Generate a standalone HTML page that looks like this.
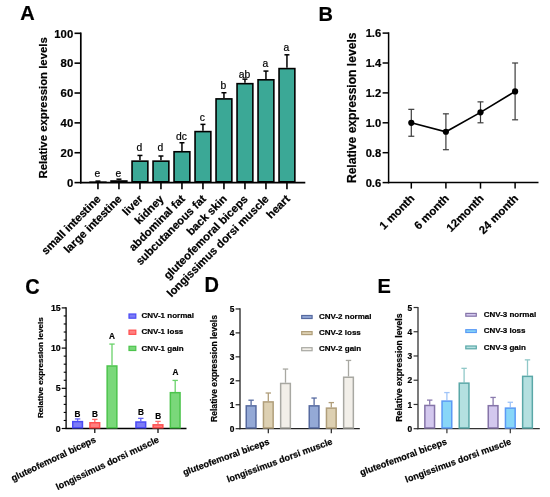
<!DOCTYPE html>
<html><head><meta charset="utf-8"><style>
html,body{margin:0;padding:0;background:#fff;}
svg{display:block;font-family:"Liberation Sans", sans-serif;will-change:transform;}
text{stroke:#000;stroke-width:0.2px;}
</style></head><body>
<svg width="550" height="497" viewBox="0 0 550 497">
<rect width="550" height="497" fill="#fff"/>
<text x="20.20" y="19.90" font-size="20" font-weight="bold" text-anchor="start" fill="#000">A</text>
<text x="318.60" y="20.90" font-size="20" font-weight="bold" text-anchor="start" fill="#000">B</text>
<text transform="translate(25.20,294.10) scale(1,1.07)" font-size="20" font-weight="bold" text-anchor="start" fill="#000">C</text>
<text transform="translate(204.60,291.60) scale(1,1.07)" font-size="20" font-weight="bold" text-anchor="start" fill="#000">D</text>
<text transform="translate(377.60,292.90) scale(1,1.03)" font-size="20" font-weight="bold" text-anchor="start" fill="#000">E</text>
<line x1="80.80" y1="32.50" x2="80.80" y2="183.40" stroke="#000" stroke-width="1.7"/>
<line x1="80.00" y1="182.60" x2="305.30" y2="182.60" stroke="#000" stroke-width="1.7"/>
<line x1="74.50" y1="182.60" x2="80.80" y2="182.60" stroke="#000" stroke-width="1.6"/>
<text x="73.20" y="186.90" font-size="11.3" font-weight="bold" text-anchor="end" fill="#000">0</text>
<line x1="74.50" y1="152.74" x2="80.80" y2="152.74" stroke="#000" stroke-width="1.6"/>
<text x="73.20" y="157.04" font-size="11.3" font-weight="bold" text-anchor="end" fill="#000">20</text>
<line x1="74.50" y1="122.88" x2="80.80" y2="122.88" stroke="#000" stroke-width="1.6"/>
<text x="73.20" y="127.18" font-size="11.3" font-weight="bold" text-anchor="end" fill="#000">40</text>
<line x1="74.50" y1="93.02" x2="80.80" y2="93.02" stroke="#000" stroke-width="1.6"/>
<text x="73.20" y="97.32" font-size="11.3" font-weight="bold" text-anchor="end" fill="#000">60</text>
<line x1="74.50" y1="63.16" x2="80.80" y2="63.16" stroke="#000" stroke-width="1.6"/>
<text x="73.20" y="67.46" font-size="11.3" font-weight="bold" text-anchor="end" fill="#000">80</text>
<line x1="74.50" y1="33.30" x2="80.80" y2="33.30" stroke="#000" stroke-width="1.6"/>
<text x="73.20" y="37.60" font-size="11.3" font-weight="bold" text-anchor="end" fill="#000">100</text>
<text transform="translate(46.90,107.90) rotate(-90)" font-size="11.35" font-weight="bold" text-anchor="middle" fill="#000">Relative expression levels</text>
<line x1="97.95" y1="182.60" x2="97.95" y2="189.20" stroke="#000" stroke-width="1.6"/>
<line x1="97.95" y1="181.41" x2="97.95" y2="181.11" stroke="#000" stroke-width="1.5"/>
<line x1="95.45" y1="181.11" x2="100.45" y2="181.11" stroke="#000" stroke-width="1.5"/>
<rect x="90.05" y="182.21" width="15.80" height="0.01" fill="#3ba896" stroke="#000" stroke-width="1.6"/>
<text x="97.45" y="176.60" font-size="10.3" font-weight="normal" text-anchor="middle" fill="#000">e</text>
<text transform="translate(101.55,199.70) rotate(-45)" font-size="11.3" font-weight="bold" text-anchor="end" fill="#000">small intestine</text>
<line x1="118.95" y1="182.60" x2="118.95" y2="189.20" stroke="#000" stroke-width="1.6"/>
<line x1="118.95" y1="180.21" x2="118.95" y2="179.17" stroke="#000" stroke-width="1.5"/>
<line x1="116.45" y1="179.17" x2="121.45" y2="179.17" stroke="#000" stroke-width="1.5"/>
<rect x="111.05" y="181.01" width="15.80" height="0.79" fill="#3ba896" stroke="#000" stroke-width="1.6"/>
<text x="118.45" y="176.60" font-size="10.3" font-weight="normal" text-anchor="middle" fill="#000">e</text>
<text transform="translate(122.55,199.70) rotate(-45)" font-size="11.3" font-weight="bold" text-anchor="end" fill="#000">large intestine</text>
<line x1="139.95" y1="182.60" x2="139.95" y2="189.20" stroke="#000" stroke-width="1.6"/>
<line x1="139.95" y1="160.35" x2="139.95" y2="155.43" stroke="#000" stroke-width="1.5"/>
<line x1="137.45" y1="155.43" x2="142.45" y2="155.43" stroke="#000" stroke-width="1.5"/>
<rect x="132.05" y="161.15" width="15.80" height="20.65" fill="#3ba896" stroke="#000" stroke-width="1.6"/>
<text x="139.45" y="150.50" font-size="10.3" font-weight="normal" text-anchor="middle" fill="#000">d</text>
<text transform="translate(143.55,199.70) rotate(-45)" font-size="11.3" font-weight="bold" text-anchor="end" fill="#000">liver</text>
<line x1="160.95" y1="182.60" x2="160.95" y2="189.20" stroke="#000" stroke-width="1.6"/>
<line x1="160.95" y1="160.35" x2="160.95" y2="156.02" stroke="#000" stroke-width="1.5"/>
<line x1="158.45" y1="156.02" x2="163.45" y2="156.02" stroke="#000" stroke-width="1.5"/>
<rect x="153.05" y="161.15" width="15.80" height="20.65" fill="#3ba896" stroke="#000" stroke-width="1.6"/>
<text x="160.45" y="150.50" font-size="10.3" font-weight="normal" text-anchor="middle" fill="#000">d</text>
<text transform="translate(164.55,199.70) rotate(-45)" font-size="11.3" font-weight="bold" text-anchor="end" fill="#000">kidney</text>
<line x1="181.95" y1="182.60" x2="181.95" y2="189.20" stroke="#000" stroke-width="1.6"/>
<line x1="181.95" y1="150.95" x2="181.95" y2="142.74" stroke="#000" stroke-width="1.5"/>
<line x1="179.45" y1="142.74" x2="184.45" y2="142.74" stroke="#000" stroke-width="1.5"/>
<rect x="174.05" y="151.75" width="15.80" height="30.05" fill="#3ba896" stroke="#000" stroke-width="1.6"/>
<text x="181.45" y="140.20" font-size="10.3" font-weight="normal" text-anchor="middle" fill="#000">dc</text>
<text transform="translate(185.55,199.70) rotate(-45)" font-size="11.3" font-weight="bold" text-anchor="end" fill="#000">abdominal fat</text>
<line x1="202.95" y1="182.60" x2="202.95" y2="189.20" stroke="#000" stroke-width="1.6"/>
<line x1="202.95" y1="130.79" x2="202.95" y2="124.37" stroke="#000" stroke-width="1.5"/>
<line x1="200.45" y1="124.37" x2="205.45" y2="124.37" stroke="#000" stroke-width="1.5"/>
<rect x="195.05" y="131.59" width="15.80" height="50.21" fill="#3ba896" stroke="#000" stroke-width="1.6"/>
<text x="202.45" y="121.30" font-size="10.3" font-weight="normal" text-anchor="middle" fill="#000">c</text>
<text transform="translate(206.55,199.70) rotate(-45)" font-size="11.3" font-weight="bold" text-anchor="end" fill="#000">subcutaneous fat</text>
<line x1="223.95" y1="182.60" x2="223.95" y2="189.20" stroke="#000" stroke-width="1.6"/>
<line x1="223.95" y1="98.10" x2="223.95" y2="92.72" stroke="#000" stroke-width="1.5"/>
<line x1="221.45" y1="92.72" x2="226.45" y2="92.72" stroke="#000" stroke-width="1.5"/>
<rect x="216.05" y="98.90" width="15.80" height="82.90" fill="#3ba896" stroke="#000" stroke-width="1.6"/>
<text x="223.45" y="88.70" font-size="10.3" font-weight="normal" text-anchor="middle" fill="#000">b</text>
<text transform="translate(227.55,199.70) rotate(-45)" font-size="11.3" font-weight="bold" text-anchor="end" fill="#000">back skin</text>
<line x1="244.95" y1="182.60" x2="244.95" y2="189.20" stroke="#000" stroke-width="1.6"/>
<line x1="244.95" y1="82.87" x2="244.95" y2="79.14" stroke="#000" stroke-width="1.5"/>
<line x1="242.45" y1="79.14" x2="247.45" y2="79.14" stroke="#000" stroke-width="1.5"/>
<rect x="237.05" y="83.67" width="15.80" height="98.13" fill="#3ba896" stroke="#000" stroke-width="1.6"/>
<text x="244.45" y="78.10" font-size="10.3" font-weight="normal" text-anchor="middle" fill="#000">ab</text>
<text transform="translate(248.55,199.70) rotate(-45)" font-size="11.3" font-weight="bold" text-anchor="end" fill="#000">gluteofemoral biceps</text>
<line x1="265.95" y1="182.60" x2="265.95" y2="189.20" stroke="#000" stroke-width="1.6"/>
<line x1="265.95" y1="78.99" x2="265.95" y2="71.07" stroke="#000" stroke-width="1.5"/>
<line x1="263.45" y1="71.07" x2="268.45" y2="71.07" stroke="#000" stroke-width="1.5"/>
<rect x="258.05" y="79.79" width="15.80" height="102.01" fill="#3ba896" stroke="#000" stroke-width="1.6"/>
<text x="265.45" y="67.00" font-size="10.3" font-weight="normal" text-anchor="middle" fill="#000">a</text>
<text transform="translate(269.55,199.70) rotate(-45)" font-size="11.3" font-weight="bold" text-anchor="end" fill="#000">longissimus dorsi muscle</text>
<line x1="286.95" y1="182.60" x2="286.95" y2="189.20" stroke="#000" stroke-width="1.6"/>
<line x1="286.95" y1="67.79" x2="286.95" y2="54.80" stroke="#000" stroke-width="1.5"/>
<line x1="284.45" y1="54.80" x2="289.45" y2="54.80" stroke="#000" stroke-width="1.5"/>
<rect x="279.05" y="68.59" width="15.80" height="113.21" fill="#3ba896" stroke="#000" stroke-width="1.6"/>
<text x="286.45" y="51.10" font-size="10.3" font-weight="normal" text-anchor="middle" fill="#000">a</text>
<text transform="translate(290.55,199.70) rotate(-45)" font-size="11.3" font-weight="bold" text-anchor="end" fill="#000">heart</text>
<line x1="388.60" y1="32.30" x2="388.60" y2="183.30" stroke="#000" stroke-width="1.5"/>
<line x1="387.90" y1="182.60" x2="538.50" y2="182.60" stroke="#000" stroke-width="1.5"/>
<line x1="382.60" y1="182.60" x2="388.60" y2="182.60" stroke="#000" stroke-width="1.5"/>
<text x="381.20" y="186.80" font-size="11.2" font-weight="bold" text-anchor="end" fill="#000">0.6</text>
<line x1="382.60" y1="152.70" x2="388.60" y2="152.70" stroke="#000" stroke-width="1.5"/>
<text x="381.20" y="156.90" font-size="11.2" font-weight="bold" text-anchor="end" fill="#000">0.8</text>
<line x1="382.60" y1="122.80" x2="388.60" y2="122.80" stroke="#000" stroke-width="1.5"/>
<text x="381.20" y="127.00" font-size="11.2" font-weight="bold" text-anchor="end" fill="#000">1.0</text>
<line x1="382.60" y1="92.90" x2="388.60" y2="92.90" stroke="#000" stroke-width="1.5"/>
<text x="381.20" y="97.10" font-size="11.2" font-weight="bold" text-anchor="end" fill="#000">1.2</text>
<line x1="382.60" y1="63.00" x2="388.60" y2="63.00" stroke="#000" stroke-width="1.5"/>
<text x="381.20" y="67.20" font-size="11.2" font-weight="bold" text-anchor="end" fill="#000">1.4</text>
<line x1="382.60" y1="33.10" x2="388.60" y2="33.10" stroke="#000" stroke-width="1.5"/>
<text x="381.20" y="37.30" font-size="11.2" font-weight="bold" text-anchor="end" fill="#000">1.6</text>
<text transform="translate(355.60,107.80) rotate(-90)" font-size="12.1" font-weight="bold" text-anchor="middle" fill="#000">Relative expression levels</text>
<line x1="411.30" y1="182.60" x2="411.30" y2="188.60" stroke="#000" stroke-width="1.5"/>
<text transform="translate(415.10,199.20) rotate(-45)" font-size="11.3" font-weight="bold" text-anchor="end" fill="#000">1 month</text>
<line x1="445.90" y1="182.60" x2="445.90" y2="188.60" stroke="#000" stroke-width="1.5"/>
<text transform="translate(449.70,199.20) rotate(-45)" font-size="11.3" font-weight="bold" text-anchor="end" fill="#000">6 month</text>
<line x1="480.50" y1="182.60" x2="480.50" y2="188.60" stroke="#000" stroke-width="1.5"/>
<text transform="translate(484.30,199.20) rotate(-45)" font-size="11.3" font-weight="bold" text-anchor="end" fill="#000">12month</text>
<line x1="515.10" y1="182.60" x2="515.10" y2="188.60" stroke="#000" stroke-width="1.5"/>
<text transform="translate(518.90,199.20) rotate(-45)" font-size="11.3" font-weight="bold" text-anchor="end" fill="#000">24 month</text>
<line x1="411.30" y1="136.25" x2="411.30" y2="109.34" stroke="#3c3c3c" stroke-width="1.2"/>
<line x1="408.30" y1="136.25" x2="414.30" y2="136.25" stroke="#3c3c3c" stroke-width="1.2"/>
<line x1="408.30" y1="109.34" x2="414.30" y2="109.34" stroke="#3c3c3c" stroke-width="1.2"/>
<line x1="445.90" y1="149.71" x2="445.90" y2="113.83" stroke="#3c3c3c" stroke-width="1.2"/>
<line x1="442.90" y1="149.71" x2="448.90" y2="149.71" stroke="#3c3c3c" stroke-width="1.2"/>
<line x1="442.90" y1="113.83" x2="448.90" y2="113.83" stroke="#3c3c3c" stroke-width="1.2"/>
<line x1="480.50" y1="122.80" x2="480.50" y2="101.87" stroke="#3c3c3c" stroke-width="1.2"/>
<line x1="477.50" y1="122.80" x2="483.50" y2="122.80" stroke="#3c3c3c" stroke-width="1.2"/>
<line x1="477.50" y1="101.87" x2="483.50" y2="101.87" stroke="#3c3c3c" stroke-width="1.2"/>
<line x1="515.10" y1="119.81" x2="515.10" y2="63.00" stroke="#3c3c3c" stroke-width="1.2"/>
<line x1="512.10" y1="119.81" x2="518.10" y2="119.81" stroke="#3c3c3c" stroke-width="1.2"/>
<line x1="512.10" y1="63.00" x2="518.10" y2="63.00" stroke="#3c3c3c" stroke-width="1.2"/>
<polyline fill="none" stroke="#000" stroke-width="1.6" points="411.30,122.80 445.90,131.77 480.50,112.33 515.10,91.41"/>
<circle cx="411.30" cy="122.80" r="3.1" fill="#000"/>
<circle cx="445.90" cy="131.77" r="3.1" fill="#000"/>
<circle cx="480.50" cy="112.33" r="3.1" fill="#000"/>
<circle cx="515.10" cy="91.41" r="3.1" fill="#000"/>
<line x1="66.10" y1="307.30" x2="66.10" y2="429.10" stroke="#000" stroke-width="1.3"/>
<line x1="65.50" y1="428.50" x2="186.50" y2="428.50" stroke="#000" stroke-width="1.3"/>
<line x1="61.70" y1="428.50" x2="66.10" y2="428.50" stroke="#000" stroke-width="1.2"/>
<text x="60.70" y="431.60" font-size="8.8" font-weight="bold" text-anchor="end" fill="#000">0</text>
<line x1="61.70" y1="388.30" x2="66.10" y2="388.30" stroke="#000" stroke-width="1.2"/>
<text x="60.70" y="391.40" font-size="8.8" font-weight="bold" text-anchor="end" fill="#000">5</text>
<line x1="61.70" y1="348.10" x2="66.10" y2="348.10" stroke="#000" stroke-width="1.2"/>
<text x="60.70" y="351.20" font-size="8.8" font-weight="bold" text-anchor="end" fill="#000">10</text>
<line x1="61.70" y1="307.90" x2="66.10" y2="307.90" stroke="#000" stroke-width="1.2"/>
<text x="60.70" y="311.00" font-size="8.8" font-weight="bold" text-anchor="end" fill="#000">15</text>
<line x1="63.70" y1="420.46" x2="66.10" y2="420.46" stroke="#000" stroke-width="1.1"/>
<line x1="63.70" y1="412.42" x2="66.10" y2="412.42" stroke="#000" stroke-width="1.1"/>
<line x1="63.70" y1="404.38" x2="66.10" y2="404.38" stroke="#000" stroke-width="1.1"/>
<line x1="63.70" y1="396.34" x2="66.10" y2="396.34" stroke="#000" stroke-width="1.1"/>
<line x1="63.70" y1="380.26" x2="66.10" y2="380.26" stroke="#000" stroke-width="1.1"/>
<line x1="63.70" y1="372.22" x2="66.10" y2="372.22" stroke="#000" stroke-width="1.1"/>
<line x1="63.70" y1="364.18" x2="66.10" y2="364.18" stroke="#000" stroke-width="1.1"/>
<line x1="63.70" y1="356.14" x2="66.10" y2="356.14" stroke="#000" stroke-width="1.1"/>
<line x1="63.70" y1="340.06" x2="66.10" y2="340.06" stroke="#000" stroke-width="1.1"/>
<line x1="63.70" y1="332.02" x2="66.10" y2="332.02" stroke="#000" stroke-width="1.1"/>
<line x1="63.70" y1="323.98" x2="66.10" y2="323.98" stroke="#000" stroke-width="1.1"/>
<line x1="63.70" y1="315.94" x2="66.10" y2="315.94" stroke="#000" stroke-width="1.1"/>
<text transform="translate(42.70,367.60) rotate(-90)" font-size="8.1" font-weight="bold" text-anchor="middle" fill="#000">Relative expression levels</text>
<line x1="94.80" y1="428.50" x2="94.80" y2="433.10" stroke="#000" stroke-width="1.2"/>
<line x1="77.60" y1="420.86" x2="77.60" y2="418.93" stroke="#6464f4" stroke-width="1.3"/>
<line x1="74.90" y1="418.93" x2="80.30" y2="418.93" stroke="#6464f4" stroke-width="1.3"/>
<rect x="72.75" y="421.61" width="9.70" height="6.14" fill="#7c7cf6" stroke="#4a4af5" stroke-width="1.5"/>
<line x1="94.80" y1="421.99" x2="94.80" y2="419.41" stroke="#ff6a6a" stroke-width="1.3"/>
<line x1="92.10" y1="419.41" x2="97.50" y2="419.41" stroke="#ff6a6a" stroke-width="1.3"/>
<rect x="89.95" y="422.74" width="9.70" height="5.01" fill="#ff8080" stroke="#ff4f4f" stroke-width="1.5"/>
<line x1="112.00" y1="365.23" x2="112.00" y2="344.08" stroke="#6ad26a" stroke-width="1.3"/>
<line x1="109.30" y1="344.08" x2="114.70" y2="344.08" stroke="#6ad26a" stroke-width="1.3"/>
<rect x="107.15" y="365.98" width="9.70" height="61.77" fill="#7ad87a" stroke="#4cc44c" stroke-width="1.5"/>
<line x1="158.00" y1="428.50" x2="158.00" y2="433.10" stroke="#000" stroke-width="1.2"/>
<line x1="140.80" y1="421.26" x2="140.80" y2="418.37" stroke="#6464f4" stroke-width="1.3"/>
<line x1="138.10" y1="418.37" x2="143.50" y2="418.37" stroke="#6464f4" stroke-width="1.3"/>
<rect x="135.95" y="422.01" width="9.70" height="5.74" fill="#7c7cf6" stroke="#4a4af5" stroke-width="1.5"/>
<line x1="158.00" y1="424.08" x2="158.00" y2="421.42" stroke="#ff6a6a" stroke-width="1.3"/>
<line x1="155.30" y1="421.42" x2="160.70" y2="421.42" stroke="#ff6a6a" stroke-width="1.3"/>
<rect x="153.15" y="424.83" width="9.70" height="2.92" fill="#ff8080" stroke="#ff4f4f" stroke-width="1.5"/>
<line x1="175.20" y1="391.92" x2="175.20" y2="380.42" stroke="#6ad26a" stroke-width="1.3"/>
<line x1="172.50" y1="380.42" x2="177.90" y2="380.42" stroke="#6ad26a" stroke-width="1.3"/>
<rect x="170.35" y="392.67" width="9.70" height="35.08" fill="#7ad87a" stroke="#4cc44c" stroke-width="1.5"/>
<rect x="129.00" y="314.00" width="6.80" height="4.20" fill="#7c7cf6" stroke="#4a4af5" stroke-width="1.2"/>
<text x="141.50" y="318.30" font-size="8.0" font-weight="bold" text-anchor="start" fill="#000">CNV-1 normal</text>
<rect x="129.00" y="330.15" width="6.80" height="4.20" fill="#ff8080" stroke="#ff4f4f" stroke-width="1.2"/>
<text x="141.50" y="334.45" font-size="8.0" font-weight="bold" text-anchor="start" fill="#000">CNV-1 loss</text>
<rect x="129.00" y="346.30" width="6.80" height="4.20" fill="#7ad87a" stroke="#4cc44c" stroke-width="1.2"/>
<text x="141.50" y="350.60" font-size="8.0" font-weight="bold" text-anchor="start" fill="#000">CNV-1 gain</text>
<text transform="translate(96.50,441.80) rotate(-25.4)" font-size="9.2" font-weight="bold" text-anchor="end" fill="#000">gluteofemoral biceps</text>
<text transform="translate(159.70,441.80) rotate(-25.4)" font-size="9.2" font-weight="bold" text-anchor="end" fill="#000">longissimus dorsi muscle</text>
<text x="77.50" y="416.60" font-size="8.2" font-weight="bold" text-anchor="middle" fill="#000">B</text>
<text x="95.00" y="417.00" font-size="8.2" font-weight="bold" text-anchor="middle" fill="#000">B</text>
<text x="112.00" y="338.70" font-size="8.2" font-weight="bold" text-anchor="middle" fill="#000">A</text>
<text x="141.00" y="415.00" font-size="8.2" font-weight="bold" text-anchor="middle" fill="#000">B</text>
<text x="158.20" y="419.20" font-size="8.2" font-weight="bold" text-anchor="middle" fill="#000">B</text>
<text x="175.40" y="374.90" font-size="8.2" font-weight="bold" text-anchor="middle" fill="#000">A</text>
<line x1="240.00" y1="308.35" x2="240.00" y2="429.30" stroke="#222" stroke-width="1.3"/>
<line x1="239.40" y1="428.70" x2="359.80" y2="428.70" stroke="#222" stroke-width="1.3"/>
<line x1="235.60" y1="428.70" x2="240.00" y2="428.70" stroke="#222" stroke-width="1.2"/>
<text x="234.30" y="431.80" font-size="8.4" font-weight="bold" text-anchor="end" fill="#000">0</text>
<line x1="235.60" y1="404.75" x2="240.00" y2="404.75" stroke="#222" stroke-width="1.2"/>
<text x="234.30" y="407.85" font-size="8.4" font-weight="bold" text-anchor="end" fill="#000">1</text>
<line x1="235.60" y1="380.80" x2="240.00" y2="380.80" stroke="#222" stroke-width="1.2"/>
<text x="234.30" y="383.90" font-size="8.4" font-weight="bold" text-anchor="end" fill="#000">2</text>
<line x1="235.60" y1="356.85" x2="240.00" y2="356.85" stroke="#222" stroke-width="1.2"/>
<text x="234.30" y="359.95" font-size="8.4" font-weight="bold" text-anchor="end" fill="#000">3</text>
<line x1="235.60" y1="332.90" x2="240.00" y2="332.90" stroke="#222" stroke-width="1.2"/>
<text x="234.30" y="336.00" font-size="8.4" font-weight="bold" text-anchor="end" fill="#000">4</text>
<line x1="235.60" y1="308.95" x2="240.00" y2="308.95" stroke="#222" stroke-width="1.2"/>
<text x="234.30" y="312.05" font-size="8.4" font-weight="bold" text-anchor="end" fill="#000">5</text>
<text transform="translate(216.50,368.50) rotate(-90)" font-size="8.6" font-weight="bold" text-anchor="middle" fill="#000">Relative expression levels</text>
<line x1="268.30" y1="428.70" x2="268.30" y2="433.30" stroke="#222" stroke-width="1.2"/>
<line x1="251.10" y1="405.11" x2="251.10" y2="400.20" stroke="#566aa0" stroke-width="1.3"/>
<line x1="248.40" y1="400.20" x2="253.80" y2="400.20" stroke="#566aa0" stroke-width="1.3"/>
<rect x="246.25" y="405.86" width="9.70" height="22.09" fill="#94a9d6" stroke="#566aa0" stroke-width="1.5"/>
<line x1="268.30" y1="401.16" x2="268.30" y2="393.01" stroke="#b09e7a" stroke-width="1.3"/>
<line x1="265.60" y1="393.01" x2="271.00" y2="393.01" stroke="#b09e7a" stroke-width="1.3"/>
<rect x="263.45" y="401.91" width="9.70" height="26.04" fill="#ddd0b2" stroke="#b09e7a" stroke-width="1.5"/>
<line x1="285.50" y1="382.72" x2="285.50" y2="369.06" stroke="#a8a8a2" stroke-width="1.3"/>
<line x1="282.80" y1="369.06" x2="288.20" y2="369.06" stroke="#a8a8a2" stroke-width="1.3"/>
<rect x="280.65" y="383.47" width="9.70" height="44.48" fill="#f2efe9" stroke="#a8a8a2" stroke-width="1.5"/>
<line x1="331.30" y1="428.70" x2="331.30" y2="433.30" stroke="#222" stroke-width="1.2"/>
<line x1="314.10" y1="405.11" x2="314.10" y2="398.04" stroke="#566aa0" stroke-width="1.3"/>
<line x1="311.40" y1="398.04" x2="316.80" y2="398.04" stroke="#566aa0" stroke-width="1.3"/>
<rect x="309.25" y="405.86" width="9.70" height="22.09" fill="#94a9d6" stroke="#566aa0" stroke-width="1.5"/>
<line x1="331.30" y1="407.38" x2="331.30" y2="402.59" stroke="#b09e7a" stroke-width="1.3"/>
<line x1="328.60" y1="402.59" x2="334.00" y2="402.59" stroke="#b09e7a" stroke-width="1.3"/>
<rect x="326.45" y="408.13" width="9.70" height="19.82" fill="#ddd0b2" stroke="#b09e7a" stroke-width="1.5"/>
<line x1="348.50" y1="376.49" x2="348.50" y2="360.44" stroke="#a8a8a2" stroke-width="1.3"/>
<line x1="345.80" y1="360.44" x2="351.20" y2="360.44" stroke="#a8a8a2" stroke-width="1.3"/>
<rect x="343.65" y="377.24" width="9.70" height="50.71" fill="#f2efe9" stroke="#a8a8a2" stroke-width="1.5"/>
<rect x="301.70" y="315.50" width="10.40" height="3.00" fill="#94a9d6" stroke="#566aa0" stroke-width="1.2"/>
<text x="319.00" y="319.00" font-size="8.0" font-weight="bold" text-anchor="start" fill="#000">CNV-2 normal</text>
<rect x="301.70" y="331.60" width="10.40" height="3.00" fill="#ddd0b2" stroke="#b09e7a" stroke-width="1.2"/>
<text x="319.00" y="335.10" font-size="8.0" font-weight="bold" text-anchor="start" fill="#000">CNV-2 loss</text>
<rect x="301.70" y="347.70" width="10.40" height="3.00" fill="#f2efe9" stroke="#a8a8a2" stroke-width="1.2"/>
<text x="319.00" y="351.20" font-size="8.0" font-weight="bold" text-anchor="start" fill="#000">CNV-2 gain</text>
<text transform="translate(270.00,444.00) rotate(-20.2)" font-size="9.1" font-weight="bold" text-anchor="end" fill="#000">gluteofemoral biceps</text>
<text transform="translate(333.00,444.00) rotate(-20.2)" font-size="9.1" font-weight="bold" text-anchor="end" fill="#000">longissimus dorsi muscle</text>
<line x1="418.00" y1="306.90" x2="418.00" y2="429.30" stroke="#333" stroke-width="1.3"/>
<line x1="417.40" y1="428.70" x2="539.80" y2="428.70" stroke="#333" stroke-width="1.3"/>
<line x1="413.60" y1="428.70" x2="418.00" y2="428.70" stroke="#333" stroke-width="1.2"/>
<text x="412.20" y="431.80" font-size="8.4" font-weight="bold" text-anchor="end" fill="#000">0</text>
<line x1="413.60" y1="404.46" x2="418.00" y2="404.46" stroke="#333" stroke-width="1.2"/>
<text x="412.20" y="407.56" font-size="8.4" font-weight="bold" text-anchor="end" fill="#000">1</text>
<line x1="413.60" y1="380.22" x2="418.00" y2="380.22" stroke="#333" stroke-width="1.2"/>
<text x="412.20" y="383.32" font-size="8.4" font-weight="bold" text-anchor="end" fill="#000">2</text>
<line x1="413.60" y1="355.98" x2="418.00" y2="355.98" stroke="#333" stroke-width="1.2"/>
<text x="412.20" y="359.08" font-size="8.4" font-weight="bold" text-anchor="end" fill="#000">3</text>
<line x1="413.60" y1="331.74" x2="418.00" y2="331.74" stroke="#333" stroke-width="1.2"/>
<text x="412.20" y="334.84" font-size="8.4" font-weight="bold" text-anchor="end" fill="#000">4</text>
<line x1="413.60" y1="307.50" x2="418.00" y2="307.50" stroke="#333" stroke-width="1.2"/>
<text x="412.20" y="310.60" font-size="8.4" font-weight="bold" text-anchor="end" fill="#000">5</text>
<text transform="translate(402.00,367.60) rotate(-90)" font-size="8.7" font-weight="bold" text-anchor="middle" fill="#000">Relative expression levels</text>
<line x1="446.90" y1="428.70" x2="446.90" y2="433.30" stroke="#333" stroke-width="1.2"/>
<line x1="429.70" y1="404.70" x2="429.70" y2="400.10" stroke="#8a7aae" stroke-width="1.3"/>
<line x1="427.00" y1="400.10" x2="432.40" y2="400.10" stroke="#8a7aae" stroke-width="1.3"/>
<rect x="424.85" y="405.45" width="9.70" height="22.50" fill="#d3c8ee" stroke="#8574a8" stroke-width="1.5"/>
<line x1="446.90" y1="400.34" x2="446.90" y2="392.58" stroke="#a0c4f8" stroke-width="1.3"/>
<line x1="444.20" y1="392.58" x2="449.60" y2="392.58" stroke="#a0c4f8" stroke-width="1.3"/>
<rect x="442.05" y="401.09" width="9.70" height="26.86" fill="#88d6f8" stroke="#5a9af5" stroke-width="1.5"/>
<line x1="464.10" y1="382.40" x2="464.10" y2="368.34" stroke="#90c8c8" stroke-width="1.3"/>
<line x1="461.40" y1="368.34" x2="466.80" y2="368.34" stroke="#90c8c8" stroke-width="1.3"/>
<rect x="459.25" y="383.15" width="9.70" height="44.80" fill="#b4e0e0" stroke="#5aa8a8" stroke-width="1.5"/>
<line x1="510.30" y1="428.70" x2="510.30" y2="433.30" stroke="#333" stroke-width="1.2"/>
<line x1="493.10" y1="404.94" x2="493.10" y2="397.43" stroke="#8a7aae" stroke-width="1.3"/>
<line x1="490.40" y1="397.43" x2="495.80" y2="397.43" stroke="#8a7aae" stroke-width="1.3"/>
<rect x="488.25" y="405.69" width="9.70" height="22.26" fill="#d3c8ee" stroke="#8574a8" stroke-width="1.5"/>
<line x1="510.30" y1="407.37" x2="510.30" y2="402.28" stroke="#a0c4f8" stroke-width="1.3"/>
<line x1="507.60" y1="402.28" x2="513.00" y2="402.28" stroke="#a0c4f8" stroke-width="1.3"/>
<rect x="505.45" y="408.12" width="9.70" height="19.83" fill="#88d6f8" stroke="#5a9af5" stroke-width="1.5"/>
<line x1="527.50" y1="375.61" x2="527.50" y2="359.86" stroke="#90c8c8" stroke-width="1.3"/>
<line x1="524.80" y1="359.86" x2="530.20" y2="359.86" stroke="#90c8c8" stroke-width="1.3"/>
<rect x="522.65" y="376.36" width="9.70" height="51.59" fill="#b4e0e0" stroke="#5aa8a8" stroke-width="1.5"/>
<rect x="465.80" y="313.40" width="10.50" height="2.80" fill="#d3c8ee" stroke="#8574a8" stroke-width="1.2"/>
<text x="483.70" y="317.00" font-size="8.0" font-weight="bold" text-anchor="start" fill="#000">CNV-3 normal</text>
<rect x="465.80" y="329.70" width="10.50" height="2.80" fill="#88d6f8" stroke="#5a9af5" stroke-width="1.2"/>
<text x="483.70" y="333.30" font-size="8.0" font-weight="bold" text-anchor="start" fill="#000">CNV-3 loss</text>
<rect x="465.80" y="346.00" width="10.50" height="2.80" fill="#b4e0e0" stroke="#5aa8a8" stroke-width="1.2"/>
<text x="483.70" y="349.60" font-size="8.0" font-weight="bold" text-anchor="start" fill="#000">CNV-3 gain</text>
<text transform="translate(447.50,444.00) rotate(-20.2)" font-size="9.15" font-weight="bold" text-anchor="end" fill="#000">gluteofemoral biceps</text>
<text transform="translate(511.80,444.00) rotate(-20.2)" font-size="9.15" font-weight="bold" text-anchor="end" fill="#000">longissimus dorsi muscle</text>
</svg>
</body></html>
